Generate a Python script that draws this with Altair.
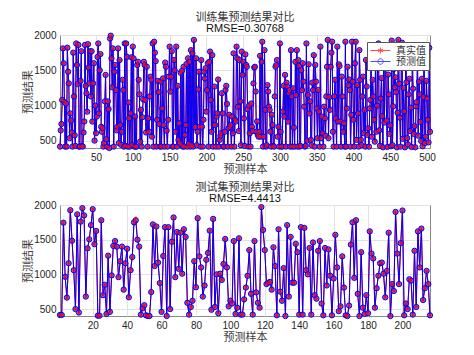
import altair as alt
import pandas as pd

# ---------------- data ----------------
train_pred = [
    420, 650, 740, 1080, 1810, 1600, 1050, 420, 1030, 420, 1820, 1480, 1315, 540, 890, 790, 620, 420, 1750, 1130, 580, 430, 1880, 1575,
    1305, 1860, 420, 420, 1350, 1770, 430, 420, 620, 775, 1860, 1280, 1175, 915, 1870, 1540, 1315, 1770, 1130, 1770, 775, 1315, 1600, 505,
    1000, 610, 845, 1690, 1880, 890, 1500, 1730, 700, 630, 680, 420, 470, 1060, 1435, 525, 420, 1060, 950, 400, 1950, 1990, 1670, 1260,
    1810, 420, 1480, 1575, 1220, 650, 700, 1810, 470, 1645, 725, 445, 630, 1365, 1220, 420, 1880, 430, 1880, 1690, 420, 1045, 820, 420,
    890, 1685, 440, 1835, 1670, 420, 845, 420, 420, 1575, 1620, 1365, 1160, 490, 940, 420, 835, 1090, 1620, 1575, 1080, 620, 1550, 420,
    820, 630, 1130, 1410, 1365, 560, 1880, 420, 1905, 1750, 1630, 420, 800, 1350, 1190, 740, 420, 1340, 420, 960, 1385, 725, 420, 1610,
    1550, 645, 420, 800, 1410, 1835, 1200, 1410, 1770, 420, 420, 1645, 1500, 630, 1835, 420, 1280, 515, 750, 470, 1465, 440, 1495, 420,
    1550, 420, 585, 725, 1590, 420, 1670, 460, 1620, 420, 1785, 440, 1740, 420, 1930, 690, 700, 1670, 440, 630, 1230, 1480, 700, 420,
    1645, 700, 420, 800, 1480, 1385, 1530, 915, 1220, 1600, 420, 1620, 1765, 1080, 630, 1715, 420, 725, 1270, 725, 420, 845, 890, 1370,
    420, 515, 575, 610, 1175, 890, 420, 420, 630, 1220, 1280, 1025, 420, 680, 870, 700, 725, 420, 845, 610, 1740, 420, 800, 775,
    1835, 1670, 985, 640, 1645, 1060, 440, 1765, 1435, 1620, 820, 430, 1725, 1575, 1550, 950, 420, 1000, 610, 420, 1030, 700, 640, 1315,
    1540, 1550, 1200, 630, 775, 585, 560, 630, 1705, 560, 1620, 1905, 420, 560, 1785, 940, 420, 440, 1290, 1200, 985, 940, 630, 420,
    870, 725, 430, 420, 1130, 1550, 1575, 1645, 560, 700, 420, 1880, 630, 420, 420, 915, 1280, 845, 1435, 420, 1325, 1270, 775, 1175,
    1220, 420, 1785, 1130, 420, 1245, 690, 420, 1620, 1150, 1785, 420, 1645, 1565, 420, 430, 1500, 1220, 1600, 1340, 985, 420, 430, 1880,
    505, 1150, 1585, 890, 1060, 515, 440, 1325, 1220, 1715, 420, 1575, 1340, 960, 540, 1220, 915, 420, 1835, 540, 845, 610, 420, 985,
    820, 575, 1130, 1550, 1930, 540, 1120, 940, 1550, 1750, 1905, 630, 420, 1130, 1365, 820, 420, 1835, 775, 1585, 1560, 775, 420, 1410,
    1130, 630, 750, 420, 1905, 420, 960, 1550, 1290, 1370, 1220, 420, 870, 1905, 1340, 800, 420, 1600, 1905, 515, 1290, 890, 420, 1785,
    1365, 515, 440, 1130, 1410, 610, 940, 420, 1645, 1270, 585, 680, 420, 960, 1080, 1690, 560, 1365, 1130, 800, 490, 1820, 630, 1000,
    1700, 1880, 650, 430, 1100, 1390, 850, 410, 1810, 760, 1600, 1540, 790, 415, 1440, 1160, 600, 720, 425, 1920, 440, 990, 1520, 1260,
    1400, 1190, 410, 900, 1930, 1310, 830, 420, 1580, 1890, 530, 1250, 920, 410, 1760, 1330, 540, 450, 1160, 1380, 640, 970, 415, 1670,
    1240, 600, 710, 410, 990, 1050, 1710, 575, 1340, 1160, 770, 500, 1380, 425, 1120, 1660, 470, 560, 1350, 1100, 800, 480, 1820, 630,
]
train_true = list(train_pred)  # RMSE 0.31: indistinguishable at this scale

test_pred = [
    415, 415, 1745, 965, 665, 1160, 1925, 1485, 1060, 500, 1865, 450, 1760, 1955, 1850, 680, 1375, 1505, 1710, 1940, 1435, 1625, 405, 405,
    1780, 700, 850, 430, 1270, 460, 985, 1410, 1480, 1400, 960, 1190, 1400, 780, 1160, 1370, 670, 1060, 1250, 1750, 1780, 1500, 1400, 420,
    510, 555, 410, 400, 400, 745, 1720, 1120, 1690, 1170, 875, 460, 1265, 1680, 400, 1680, 500, 1470, 1820, 960, 1610, 1080, 1600, 1010,
    1650, 1540, 590, 420, 530, 620, 1190, 815, 1810, 1260, 1100, 680, 840, 1210, 1310, 1630, 490, 1800, 530, 1000, 440, 1010, 920, 1150,
    1510, 1100, 540, 620, 580, 1480, 430, 520, 1520, 420, 420, 640, 810, 980, 1350, 720, 420, 1480, 740, 590, 520, 1970, 1640, 1350,
    860, 880, 890, 780, 1390, 1120, 410, 1650, 750, 620, 1090, 400, 1710, 680, 1540, 880, 880, 1440, 1320, 420, 1680, 420, 1670, 1060,
    1000, 1380, 420, 1460, 700, 650, 1340, 1480, 580, 410, 1380, 840, 1360, 980, 410, 940, 1570, 1100, 470, 540, 1260, 810, 410, 400,
    550, 1430, 1750, 950, 1780, 720, 400, 1320, 520, 430, 700, 440, 1620, 1300, 1230, 520, 800, 980, 1160, 1170, 1010, 670, 1050, 1600,
    400, 860, 760, 1900, 1300, 860, 1450, 1920, 410, 580, 500, 930, 910, 420, 1340, 530, 1620, 1100, 1660, 630, 800, 1050, 860, 410,
]
test_true = list(test_pred)
test_true[44] = 1815  # visible red star above the blue circle near sample 45

series_names = ["真实值", "预测值"]
series_colors = ["#ff0000", "#0000ff"]
y_ticks = [500, 1000, 1500, 2000]
train_x_ticks = [50, 100, 150, 200, 250, 300, 350, 400, 450, 500]
test_x_ticks = [20, 40, 60, 80, 100, 120, 140, 160, 180, 200]

# ---------------- styling ----------------
STAR = "M0,-1V1M-0.87,-0.5L0.87,0.5M-0.87,0.5L0.87,-0.5"
LEG_STAR = "M-2,0H2M0,-0.6V0.6M-0.52,-0.3L0.52,0.3M-0.52,0.3L0.52,-0.3"
LEG_CIRC = "M-2,0H2M0.55,0A0.55,0.55,0,1,1,-0.55,0A0.55,0.55,0,1,1,0.55,0"
CJK = "Noto Sans CJK SC"
SANS = "Liberation Sans"


def panel(true_vals, pred_vals, x_ticks, title, sub, h):
    n = len(pred_vals)
    df = pd.DataFrame({"idx": list(range(1, n + 1)), "true": true_vals, "pred": pred_vals})
    xs = alt.Scale(domain=[1, n], nice=False, zero=False)
    ys = alt.Scale(domain=[400, 2000], nice=False, zero=False)
    xa = alt.Axis(values=x_ticks, title="预测样本", format="d", titlePadding=1)
    ya = alt.Axis(values=y_ticks, title="预测结果", format="d", titlePadding=0)
    X = alt.X("idx:Q", scale=xs, axis=xa)
    base = alt.Chart(df)
    true_line = base.mark_line(color=series_colors[0], strokeWidth=1).encode(
        x=X, y=alt.Y("true:Q", scale=ys, axis=ya))
    pred_line = base.mark_line(color=series_colors[1], strokeWidth=1).encode(
        x=X, y=alt.Y("pred:Q", scale=ys, axis=ya))
    pred_pts = base.mark_point(shape="circle", filled=True, fill="#a8287a", fillOpacity=0.8,
                               stroke=series_colors[1], size=28, strokeWidth=1, opacity=1).encode(
        x=X, y=alt.Y("pred:Q", scale=ys, axis=ya))
    true_pts = base.mark_point(shape=STAR, color=series_colors[0], size=6, strokeWidth=1,
                               filled=False, opacity=1).encode(
        x=X, y=alt.Y("true:Q", scale=ys, axis=ya))
    leg_props = dict(orient="none", legendX=307, legendY=7, title=None,
                     fillColor="white", strokeColor="#555555", padding=3,
                     symbolSize=100, symbolStrokeWidth=1, labelFont=CJK,
                     labelFontSize=10, labelColor="#333333", labelOffset=10,
                     symbolOffset=5, rowPadding=0, cornerRadius=0)
    leg = base.transform_filter("datum.idx < 0").transform_calculate(
        series="'真实值'").mark_point(filled=False).encode(
        shape=alt.Shape("series:N", scale=alt.Scale(domain=series_names, range=[LEG_STAR, LEG_CIRC]),
                        legend=alt.Legend(**leg_props)),
        color=alt.Color("series:N", scale=alt.Scale(domain=series_names, range=series_colors),
                        legend=alt.Legend(**leg_props)),
    )
    return alt.layer(true_line, pred_line, pred_pts, true_pts, leg).properties(
        width=370, height=h,
        title=alt.Title(text=title, subtitle=sub, font=CJK, fontSize=11, fontWeight="normal",
                        color="#333333", subtitleFont=SANS, subtitleFontSize=11,
                        subtitleColor="#111111", subtitlePadding=0, offset=-4, anchor="middle"),
    )


top = panel(train_true, train_pred, train_x_ticks, "训练集预测结果对比", "RMSE=0.30768", 113)
bottom = panel(test_true, test_pred, test_x_ticks, "测试集预测结果对比", "RMSE=4.4413", 111)

chart = alt.vconcat(top, bottom, spacing=6).properties(
    padding={"left": 22, "top": 11, "right": 0, "bottom": 0},
    background="white",
).configure_view(stroke="#8a8a8a", strokeWidth=1).configure_axis(
    labelFont=SANS, labelFontSize=10, labelColor="#262626",
    titleFont=CJK, titleFontSize=11, titleFontWeight="normal", titleColor="#404040",
    gridColor="#e2e2e2", gridWidth=1, domain=False, ticks=False, labelPadding=4,
)

chart.save("out.html", embed_options={"renderer": "svg", "actions": False})
